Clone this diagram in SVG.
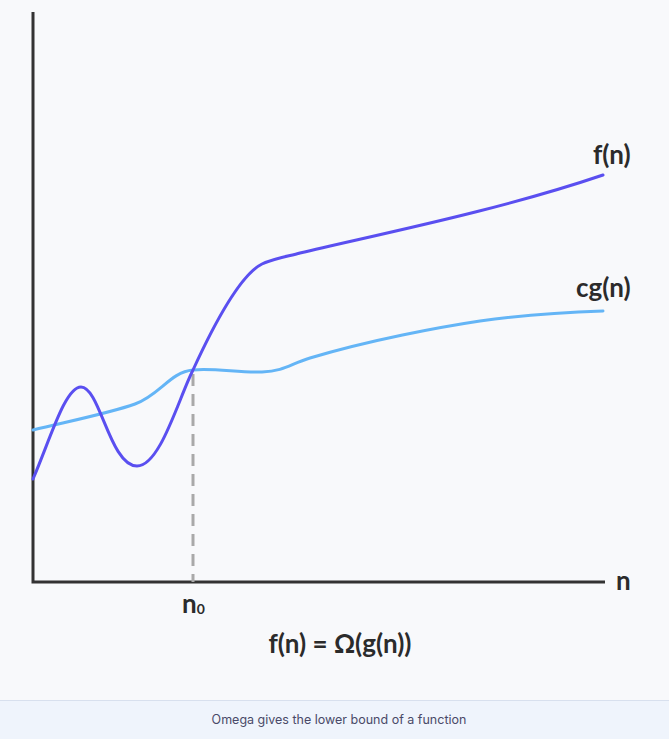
<svg xmlns="http://www.w3.org/2000/svg" width="669" height="739" viewBox="0 0 669 739">
<style>
.axis{stroke:#333;stroke-width:3;fill:none}
.curve{fill:none;stroke-width:3;stroke-linecap:round}
.lbl{font-family:Lato,"Liberation Sans",sans-serif;font-weight:700;font-size:26px;fill:#2b2b2b}
.cap{font-family:Inter,"Liberation Sans",sans-serif;font-size:12.5px;fill:#4a4a68}
</style>
<rect width="669" height="739" fill="#f8f9fb"/>
<g id="footer">
<rect x="0" y="700" width="669" height="39" fill="#eff4fc"/>
<line x1="0" y1="700.5" x2="669" y2="700.5" stroke="#d8e0ee" stroke-width="1"/>
<text class="cap" x="339" y="724" text-anchor="middle">Omega gives the lower bound of a function</text>
</g>
<g id="axes">
<path class="axis" d="M33,12 V582 H605"/>
<text class="lbl" x="616" y="590">n</text>
</g>
<g id="connectors">
<line x1="193" y1="374" x2="193" y2="582" stroke="#a9a9a9" stroke-width="3" stroke-dasharray="12,8"/>
</g>
<g id="cg">
<path class="curve" stroke="#64b5f6" d="M33,430 C70,421 110,413 135,404 C160,395 170,372 193,370 C215,368 240,373 262,372 C285,371 290,364 310,358 C370,340 440,327 480,321 C530,314 570,312 603,311"/>
<text class="lbl" x="576" y="297">cg(n)</text>
</g>
<g id="f">
<path class="curve" stroke="#5a4ff0" d="M33,479 C50,440 65,387 81,387 C100,387 110,466 137,466 C160,466 178,400 193,370 C215,322 240,275 262,264 C275,258 290,256 300,253 C380,234 500,210 603,175"/>
<text class="lbl" x="593" y="164">f(n)</text>
</g>
<g id="n0">
<text class="lbl" x="182" y="613">n<tspan font-size="14" dy="1">0</tspan></text>
</g>
<g id="formula">
<text class="lbl" x="340" y="653" text-anchor="middle" font-size="27">f(n) = Ω(g(n))</text>
</g>
</svg>
